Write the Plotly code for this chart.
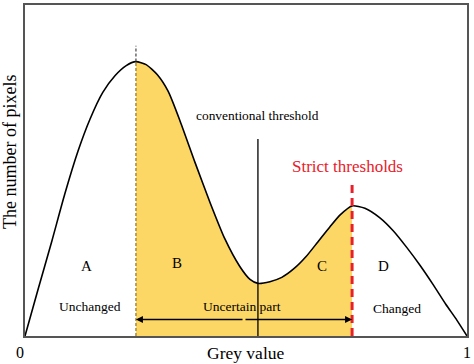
import plotly.graph_objects as go

# Histogram-like curve (x: grey value 0..1, y: relative pixel count)
curve_x = [0.0, 0.029, 0.061, 0.090, 0.120, 0.147, 0.176, 0.204, 0.229, 0.251,
           0.274, 0.299, 0.324, 0.351, 0.385, 0.419, 0.452, 0.486, 0.509, 0.527,
           0.554, 0.581, 0.609, 0.636, 0.663, 0.690, 0.713, 0.740,
           0.769, 0.803, 0.833, 0.864, 0.894, 0.923, 0.952, 0.977, 1.0]
curve_y = [0.0, 0.138, 0.288, 0.429, 0.559, 0.655, 0.736, 0.787, 0.817, 0.829,
           0.820, 0.790, 0.739, 0.649, 0.523, 0.402, 0.294, 0.210, 0.171, 0.159,
           0.164, 0.177, 0.204, 0.240, 0.285, 0.330, 0.366, 0.393,
           0.386, 0.357, 0.318, 0.267, 0.213, 0.156, 0.096, 0.048, 0.0]

peak_x = 0.251          # left boundary of uncertain part
conventional_x = 0.527  # conventional threshold
strict_x = 0.740        # strict threshold

region_labels = ["A", "B", "C", "D"]
region_label_x = [0.138, 0.343, 0.671, 0.812]
region_label_y = [0.213, 0.220, 0.213, 0.213]

part_labels = ["Unchanged", "Uncertain part", "Changed"]
part_label_x = [0.147, 0.492, 0.841]
part_label_y = [0.088, 0.088, 0.083]

FONT = "Liberation Serif, Times New Roman, serif"
SHAPE = dict(shape="spline", smoothing=0.6)

fig = go.Figure()

# yellow fill between peak and strict threshold
fx = [x for x in curve_x if peak_x <= x <= strict_x]
fy = [y for x, y in zip(curve_x, curve_y) if peak_x <= x <= strict_x]
fig.add_trace(go.Scatter(x=fx, y=fy, mode="lines", line=dict(width=0, **SHAPE),
                         fill="tozeroy", fillcolor="#FDD766", hoverinfo="skip"))

# curve
fig.add_trace(go.Scatter(x=curve_x, y=curve_y, mode="lines",
                         line=dict(color="black", width=1.6, **SHAPE), hoverinfo="skip"))

# vertical lines
fig.add_trace(go.Scatter(x=[peak_x, peak_x], y=[0.829, 0.877], mode="lines",
                         line=dict(color="#444", width=1.2, dash="3px,2px")))
fig.add_trace(go.Scatter(x=[peak_x, peak_x], y=[0, 0.829], mode="lines",
                         line=dict(color="#8a7430", width=1.2, dash="3px,2px")))
fig.add_trace(go.Scatter(x=[conventional_x, conventional_x], y=[0, 0.595], mode="lines",
                         line=dict(color="black", width=1.3)))
fig.add_trace(go.Scatter(x=[strict_x, strict_x], y=[0, 0.459], mode="lines",
                         line=dict(color="#E8202A", width=3, dash="8px,5px")))

anns = []
# arrows (double headed)
for x0, x1 in [(peak_x, strict_x), (strict_x, peak_x)]:
    anns.append(dict(x=x1, y=0.050, ax=(x0 + x1) / 2, ay=0.050, xref="x", yref="y",
                     axref="x", ayref="y", showarrow=True, arrowhead=2, arrowsize=1,
                     arrowwidth=1.4, arrowcolor="black", text=""))

C = dict(showarrow=False, xanchor="center", yanchor="middle")
for t, x, y in zip(region_labels, region_label_x, region_label_y):
    anns.append(dict(x=x, y=y, text=t, font=dict(size=15, color="black", family=FONT), **C))
for t, x, y in zip(part_labels, part_label_x, part_label_y):
    anns.append(dict(x=x, y=y, text=t, font=dict(size=13.5, color="black", family=FONT), **C))

anns.append(dict(x=conventional_x, y=0.667, text="conventional threshold",
                 font=dict(size=13.4, color="black", family=FONT), **C))
anns.append(dict(x=0.729, y=0.511, text="Strict thresholds",
                 font=dict(size=17, color="#E8202A", family=FONT), **C))

# axis texts (paper coordinates, same mapping as the 0..1 axes)
P = dict(xref="paper", yref="paper", **C)
anns.append(dict(x=0, y=-0.05, xshift=-5, text="0", font=dict(size=16, color="black", family=FONT), **P))
anns.append(dict(x=1, y=-0.05, text="1", font=dict(size=16, color="black", family=FONT), **P))
anns.append(dict(x=0.498, y=-0.052, text="Grey value", font=dict(size=17.5, color="black", family=FONT), **P))
anns.append(dict(x=-0.034, y=0.556, text="The number of pixels", textangle=-90,
                 font=dict(size=18, color="black", family=FONT), **P))

fig.update_layout(
    width=474, height=364,
    margin=dict(l=25, r=7, t=3, b=28),
    paper_bgcolor="white", plot_bgcolor="white",
    showlegend=False,
    annotations=anns,
    xaxis=dict(range=[0, 1], showgrid=False, zeroline=False, showticklabels=False, ticks="",
               showline=True, mirror=True, linecolor="#555", linewidth=1.5),
    yaxis=dict(range=[0, 1], showgrid=False, zeroline=False, showticklabels=False, ticks="",
               showline=True, mirror=True, linecolor="#555", linewidth=1.5),
)

fig.write_html("out.html")
